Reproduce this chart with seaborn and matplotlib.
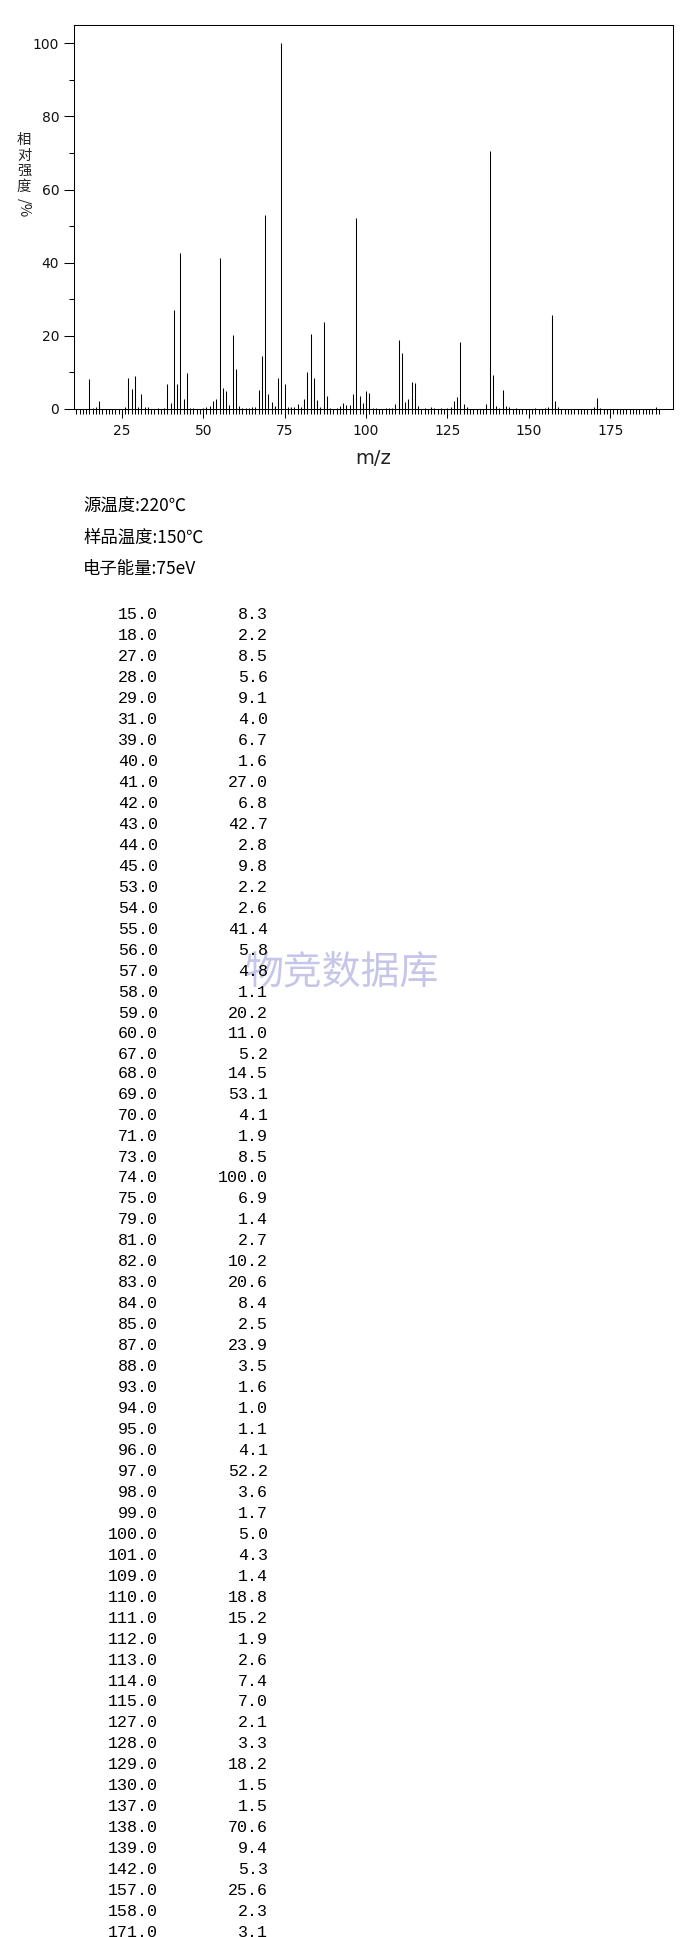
import numpy as np
import pandas as pd
import matplotlib
matplotlib.use("Agg")
import matplotlib.pyplot as plt
import seaborn as sns

# ---- data: listed peaks (m/z, relative intensity %) ----
mz_listed = [15, 18, 27, 28, 29, 31, 39, 40, 41, 42, 43, 44, 45, 53, 54, 55, 56, 57, 58, 59, 60,
             67, 68, 69, 70, 71, 73, 74, 75, 79, 81, 82, 83, 84, 85, 87, 88, 93, 94, 95, 96, 97,
             98, 99, 100, 101, 109, 110, 111, 112, 113, 114, 115, 127, 128, 129, 130, 137, 138, 139,
             142, 157, 158, 171]
int_listed = [8.3, 2.2, 8.5, 5.6, 9.1, 4.0, 6.7, 1.6, 27.0, 6.8, 42.7, 2.8, 9.8, 2.2, 2.6, 41.4, 5.8,
              4.8, 1.1, 20.2, 11.0,
              5.2, 14.5, 53.1, 4.1, 1.9, 8.5, 100.0, 6.9, 1.4, 2.7, 10.2, 20.6, 8.4, 2.5, 23.9, 3.5,
              1.6, 1.0, 1.1, 4.1, 52.2,
              3.6, 1.7, 5.0, 4.3, 1.4, 18.8, 15.2, 1.9, 2.6, 7.4, 7.0, 2.1, 3.3, 18.2, 1.5, 1.5, 70.6,
              9.4, 5.3, 25.6, 2.3, 3.1]

# ---- data: small unlisted peaks (< 1 %) ----
mz_minor = [16, 17, 26, 30, 32, 33, 36, 38, 46, 47, 50, 51, 52, 61, 62, 63, 64, 65, 66, 72,
            76, 77, 78, 80, 86, 89, 91, 92, 102, 103, 106, 107, 108, 116, 118, 120, 121, 123,
            125, 126, 131, 140, 141, 143, 144, 146, 152, 155, 156, 159, 170, 172, 189]
int_minor = [0.4, 0.5, 0.5, 0.6, 0.6, 0.5, 0.3, 0.3, 0.4, 0.3, 0.4, 0.6, 0.7, 0.9, 0.3, 0.4, 0.3,
             0.6, 0.6, 0.8, 0.6, 0.5, 0.6, 0.6, 0.6, 0.4, 0.4, 0.8, 0.4, 0.2, 0.3, 0.4, 0.4, 0.9,
             0.3, 0.6, 0.3, 0.3, 0.4, 0.6, 0.5, 0.9, 0.4, 0.9, 0.5, 0.3, 0.4, 0.4, 0.6, 0.6, 0.6,
             0.4, 0.5]

info_lines = ["源温度:220℃", "样品温度:150℃", "电子能量:75eV"]
x_major = [25, 50, 75, 100, 125, 150, 175]
y_major = [0, 20, 40, 60, 80, 100]
watermark = "物竞数据库"

W, H = 687, 1937
sns.set_theme(style="white")
plt.rcParams['font.family'] = ['DejaVu Sans']

fig = plt.figure(figsize=(W / 100, H / 100), dpi=100)
fig.patch.set_facecolor("white")

def fx(x):
    return x / W

def fy(y):
    return 1 - y / H

ax_l, ax_r, ax_t, ax_b = 74, 673, 25, 409
ax = fig.add_axes([fx(ax_l), fy(ax_b), (ax_r - ax_l) / W, (ax_b - ax_t) / H])
ax.set_facecolor("white")

df = pd.DataFrame({"mz": mz_listed + mz_minor, "inten": int_listed + int_minor})
ax.vlines(df["mz"], 0, df["inten"], colors="black", linewidth=0.75)

ax.set_xlim(10.3, 194.3)
ax.set_ylim(0, 105)
for s in ax.spines.values():
    s.set_color("black")
    s.set_linewidth(0.75)

ax.set_xticks(x_major)
ax.set_xticks(np.arange(11, 191, 1), minor=True)
ax.set_yticks(y_major)
ax.set_yticks(np.arange(10, 100, 20), minor=True)
ax.tick_params(axis="both", which="both", direction="out", color="black", width=0.75,
               bottom=True, left=True, top=False, right=False)
ax.tick_params(axis="x", which="major", length=6.5, pad=4, labelsize=10, labelcolor="#111111")
ax.tick_params(axis="x", which="minor", length=3.3)
ax.tick_params(axis="y", which="major", length=7.2, pad=3.5, labelsize=10, labelcolor="#111111")
ax.tick_params(axis="y", which="minor", length=3.6)
ax.grid(False)
ax.set_xlabel("m/z", fontsize=14, labelpad=8, color="#222222")

# y label: stacked CJK + rotated "/%"
cjk = ['Noto Sans CJK SC', 'DejaVu Sans']
for i, ch in enumerate("相对强度"):
    fig.text(fx(24), fy(140 + 15.5 * i), ch, family=cjk, fontsize=10.3,
             ha="center", va="center", color="#222222")
fig.text(fx(24), fy(208), "/%", family=cjk, fontsize=10.5, rotation=-90,
         ha="center", va="center", color="#222222")

# info lines
for i, line in enumerate(info_lines):
    fig.text(fx(83), fy(512 + 31 * i), line, family=['Noto Sans CJK SC', 'DejaVu Sans'],
             fontsize=12.5, ha="left", va="baseline", color="black")

# watermark
fig.text(fx(342), fy(974), watermark, family=cjk, fontsize=28, color="#c6c6ea",
         ha="center", va="center", zorder=0)

# table
for i, (m, v) in enumerate(zip(mz_listed, int_listed)):
    if i <= 21:
        yb = 619.3 + 20.96 * i
    else:
        yb = 1077.7 + 20.96 * (i - 22)
    fig.text(fx(158), fy(yb), f"{m:.1f}", family=['Liberation Mono', 'DejaVu Sans Mono'],
             fontsize=12, ha="right", va="baseline", color="black", zorder=2)
    fig.text(fx(268), fy(yb), f"{v:.1f}", family=['Liberation Mono', 'DejaVu Sans Mono'],
             fontsize=12, ha="right", va="baseline", color="black", zorder=2)

fig.savefig("out.png", dpi=100, facecolor="white")
